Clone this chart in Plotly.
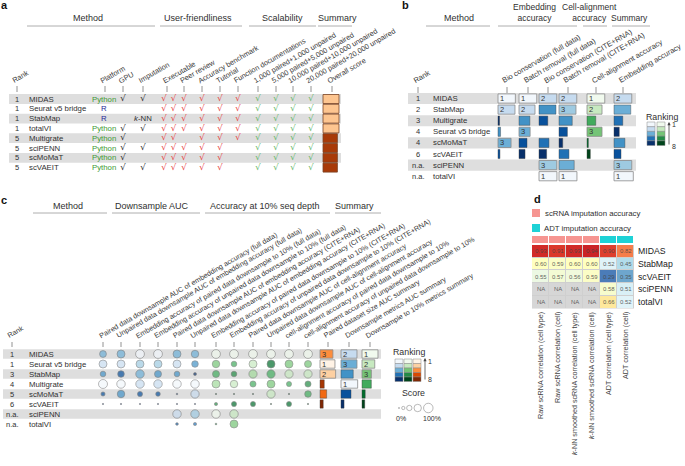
import plotly.graph_objects as go

FONT = "Liberation Sans, Arial, sans-serif"
INK = "#303030"
ROWBG = "#dedede"
TICK = "#777777"

BLUES = ["#f2f7fc", "#c6dbef", "#9ecae1", "#6baed6", "#4292c6", "#2171b5", "#08519c", "#08306b"]
GREENS = ["#f1faee", "#c7e9c0", "#a1d99b", "#74c476", "#41ab5d", "#238b45", "#006d2c", "#00441b"]
ORANGES = ["#fff3e6", "#fdd0a2", "#fdae6b", "#fd8d3c", "#f16913", "#d94801", "#a63603", "#7f2704"]

# ======================= DATA =======================
# ---- panel a
a_rank = ["1", "1", "1", "1", "5", "5", "5", "5"]
a_methods = ["MIDAS", "Seurat v5 bridge", "StabMap", "totalVI", "Multigrate", "sciPENN", "scMoMaT", "scVAEIT"]
a_platform = ["Python", "R", "R", "Python", "Python", "Python", "Python", "Python"]
a_gpu = [1, 0, 0, 1, 1, 1, 1, 1]
a_imputation = ["√", "", "<i>k</i>-NN", "√", "", "√", "", "√"]
# Executable (two checks), Peer review, Accuracy benchmark, Tutorial, Function documentations
a_user = [
    [1, 1, 1, 1, 1, 1],
    [1, 1, 1, 1, 1, 1],
    [1, 1, 1, 1, 1, 1],
    [1, 1, 1, 1, 1, 1],
    [1, 1, 0, 1, 1, 1],
    [1, 1, 1, 1, 1, 0],
    [1, 1, 1, 1, 1, 0],
    [1, 1, 1, 1, 1, 0],
]
a_scal = [
    [1, 1, 1, 1], [1, 1, 1, 1], [1, 1, 1, 1], [1, 1, 1, 1],
    [1, 1, 1, 1], [1, 1, 1, 1], [1, 1, 1, 1], [1, 1, 1, 1],
]
a_overall = [1.0, 1.0, 1.0, 1.0, 0.9, 0.9, 0.9, 0.9]
a_overall_rank = [1, 1, 1, 1, 5, 5, 5, 5]
a_col_labels = ["Rank", "Platform", "GPU", "Imputation", "Executable", "Peer review",
                "Accuracy benchmark", "Tutorial", "Function documentations",
                "1,000 paired+1,000 unpaired", "5,000 paired+5,000 unpaired",
                "10,000 paired+10,000 unpaired", "20,000 paired+20,000 unpaired", "Overall score"]
a_headers = ["Method", "User-friendliness", "Scalability", "Summary"]

# ---- panel b
b_rank = ["1", "2", "3", "4", "4", "6", "n.a.", "n.a."]
b_methods = ["MIDAS", "StabMap", "Multigrate", "Seurat v5 bridge", "scMoMaT", "scVAEIT", "sciPENN", "totalVI"]
b_col_labels = ["Rank", "Bio conservation (full data)", "Batch removal (full data)",
                "Bio conservation (CITE+RNA)", "Batch removal (CITE+RNA)",
                "Cell-alignment accuracy", "Embedding accuracy"]
b_scores = [  # per column, rows in b_methods order
    [0.89, 0.87, 0.08, 0.13, 0.67, 0.10, None, None],
    [0.91, 0.82, 0.56, 0.57, 0.41, 0.31, None, None],
    [0.91, 0.87, 0.45, None, 0.51, 0.39, 0.91, 0.92],
    [0.91, 0.87, 0.68, 0.43, 0.19, 0.51, 0.78, 0.92],
    [0.91, 0.77, 0.45, 0.77, 0.07, 0.17, None, None],
    [0.91, 0.86, 0.45, 0.27, 0.56, 0.36, 0.91, 0.99],
]
b_ranks = [
    [1, 2, 6, 4, 3, 5, None, None],
    [1, 2, 4, 3, 5, 6, None, None],
    [2, 4, 6, None, 5, 7, 3, 1],
    [2, 3, 5, 7, 8, 6, 4, 1],
    [1, 2, 4, 3, 5, 6, None, None],
    [2, 4, 6, 8, 5, 7, 3, 1],
]
b_col_family = ["blue", "blue", "blue", "blue", "green", "blue"]
b_headers = ["Method", "Embedding<br>accuracy", "Cell-alignment<br>accuracy", "Summary"]

# ---- panel c
c_rank = ["1", "1", "3", "4", "5", "6", "n.a.", "n.a."]
c_methods = ["MIDAS", "Seurat v5 bridge", "StabMap", "Multigrate", "scMoMaT", "scVAEIT", "sciPENN", "totalVI"]
c_col_labels = [
    "Paired data downsample AUC of embedding accuracy (full data)",
    "Unpaired data downsample AUC of embedding accuracy (full data)",
    "Embedding accuracy of paired data downsample to 10% (full data)",
    "Embedding accuracy of unpaired data downsample to 10% (full data)",
    "Paired data downsample AUC of embedding accuracy (CITE+RNA)",
    "Unpaired data downsample AUC of embedding accuracy (CITE+RNA)",
    "Embedding accuracy of paired data downsample to 10% (CITE+RNA)",
    "Embedding accuracy of unpaired data downsample to 10% (CITE+RNA)",
    "Paired data downsample AUC of cell-alignment accuracy",
    "Unpaired data downsample AUC of cell-alignment accuracy",
    "cell-alignment accuracy of paired data downsample to 10%",
    "cell-alignment accuracy of unpaired data downsample to 10%",
    "Paired dataset size AUC summary",
    "Downsample metrics AUC summary",
    "Downsample to 10% metrics summary",
]
c_scores = [  # rows x 12 metric columns
    [0.68, 0.82, 0.92, 0.92, 0.82, 0.76, 0.92, 0.92, 0.92, 0.92, 0.92, 0.92],
    [0.82, 0.82, 0.82, 0.82, 0.82, 0.65, 0.76, 0.53, 0.82, 0.82, 0.82, 0.70],
    [0.53, 0.65, 0.88, 0.70, 0.53, 0.22, 0.70, 0.53, 0.85, 0.85, 0.85, 0.85],
    [0.94, 0.88, 0.88, 0.88, 0.88, 0.88, 0.82, 0.76, 0.59, 0.82, 0.47, 0.59],
    [0.35, 0.76, 0.47, 0.41, 0.05, 0.86, 0.02, 0.02, 0.02, 0.86, 0.02, 0.65],
    [0.02, 0.02, 0.02, 0.02, 0.02, 0.02, 0.24, 0.47, 0.47, 0.02, 0.47, 0.02],
    [None, None, None, None, 0.88, 0.88, 0.88, 0.88, None, None, None, None],
    [None, None, None, None, 0.18, 0.24, 0.06, 0.82, None, None, None, None],
]
c_levels = [  # ranking shade 1..8
    [4, 4, 1, 1, 4, 4, 1, 1, 1, 1, 1, 1],
    [2, 2, 3, 3, 2, 5, 4, 5, 2, 7, 4, 4],
    [5, 7, 4, 5, 5, 8, 5, 6, 3, 5, 2, 2],
    [1, 1, 2, 2, 1, 1, 3, 2, 5, 4, 5, 6],
    [7, 5, 7, 7, 8, 2, 8, 8, 8, 2, 8, 5],
    [8, 8, 8, 8, 8, 8, 6, 7, 7, 8, 7, 8],
    [None, None, None, None, 2, 3, 1, 2, None, None, None, None],
    [None, None, None, None, 7, 6, 7, 4, None, None, None, None],
]
c_col_family = ["blue"] * 6 + ["green"] * 6
c_sum_scores = [  # per summary column
    [0.76, 0.88, 0.92, 0.25, 0.39, 0.19, None, None],
    [0.94, 0.94, 0.72, 0.98, 0.59, 0.18, None, None],
    [0.94, 0.75, 0.55, 0.55, 0.19, 0.16, None, None],
]
c_sum_ranks = [
    [3, 1, 2, 5, 4, 6, None, None],
    [2, 3, 4, 1, 5, 6, None, None],
    [1, 2, 3, 4, 5, 6, None, None],
]
c_sum_family = ["orange", "blue", "green"]
c_headers = ["Method", "Downsample AUC", "Accuracy at 10% seq depth", "Summary"]

# ---- panel d
d_methods = ["MIDAS", "StabMap", "scVAEIT", "sciPENN", "totalVI"]
d_metrics = ["Raw scRNA correlation (cell type)", "Raw scRNA correlation (cell)",
             "<i>k</i>-NN smoothed scRNA correlation (cell type)",
             "<i>k</i>-NN smoothed scRNA correlation (cell)",
             "ADT correlation (cell type)", "ADT correlation (cell)"]
d_metric_group = ["scRNA", "scRNA", "scRNA", "scRNA", "ADT", "ADT"]
d_values = [
    [0.93, 0.91, 0.93, 0.94, 0.90, 0.82],
    [0.60, 0.59, 0.60, 0.60, 0.52, 0.45],
    [0.55, 0.57, 0.56, 0.59, 0.29, 0.35],
    [None, None, None, None, 0.58, 0.51],
    [None, None, None, None, 0.66, 0.52],
]
d_groups = ["scRNA imputation accuracy", "ADT imputation accuracy"]

# ======================= HELPERS =======================
PAL = {"blue": BLUES, "green": GREENS, "orange": ORANGES}
fig = go.Figure()
ann = []
shp = []


def text(x, y, s, size=7.5, color=INK, xa="left", ya="middle", angle=0, bold=False, align="center"):
    if bold:
        s = "<b>" + s + "</b>"
    ann.append(dict(x=x, y=y, xref="x", yref="y", text=s, showarrow=False, align=align,
                    font=dict(family=FONT, size=size, color=color), xanchor=xa, yanchor=ya,
                    textangle=angle, borderpad=0, borderwidth=0))


def rect(x0, y0, x1, y1, fill, line=None, lw=0, layer="below"):
    shp.append(dict(type="rect", xref="x", yref="y", x0=x0, y0=y0, x1=x1, y1=y1, fillcolor=fill,
                    line=dict(color=line or fill, width=lw), layer=layer))


def hline(x0, y0, x1, y1, color="#999999", w=0.8):
    shp.append(dict(type="line", xref="x", yref="y", x0=x0, y0=y0, x1=x1, y1=y1,
                    line=dict(color=color, width=w), layer="above"))


def rot_labels(ticks, labels, ybottom, t0, t1, size):
    for x, lab in zip(ticks, labels):
        hline(x, t0, x, t1, TICK, 0.8)
        text(x - 6, ybottom, lab, size=size, xa="left", ya="bottom", angle=-30, color="#3a3a3a")


def shade(rank, n):
    return int(round((rank - 1) * 7 / max(n - 1, 1)))


def checks(xs, ys, color, size=8.5):
    fig.add_trace(go.Scatter(x=xs, y=ys, mode="text", text=["√"] * len(xs),
                             textposition="middle center",
                             textfont=dict(family="DejaVu Sans, " + FONT, size=size, color=color),
                             hoverinfo="skip"))


def arrow_legend(x, ytop, ybot):
    ann.append(dict(x=x, y=ytop, ax=x, ay=ybot, xref="x", yref="y", axref="x", ayref="y",
                    showarrow=True, arrowhead=2, arrowsize=0.8, arrowwidth=0.8, arrowcolor="#444", text=""))


# ======================= PANEL A =======================
text(1, 5, "a", size=11, bold=True, color="#111")
A_Y0, A_DY = 99, 9.8
a_y = [A_Y0 + i * A_DY for i in range(len(a_methods))]
A_TICKS = [17, 105, 123, 143, 167, 184, 202, 220, 238, 258, 276, 293, 311, 332]
A_UF_X = [164, 173.5, 184, 202, 220, 238]
A_SC_X = [258, 276, 293, 311]
A_SUM_X0, A_SUM_W = 323, 16

hdr_a = list(zip([(27, 155), (160, 242), (249, 316), (318, 352)], [88, 198, 282, 318], a_headers))
for (x0, x1), cx, h in hdr_a:
    if h == "Summary":
        text(cx, 18, h, size=9, xa="left")
    else:
        text(cx, 18, h, size=9, xa="center")
    hline(x0, 26, x1, 26, "#9a9a9a", 0.8)

rot_labels(A_TICKS, a_col_labels, 85, 86, 92, 7.3)

for i, y in enumerate(a_y):
    if i % 2 == 0:
        rect(9, y - A_DY / 2, 341, y + A_DY / 2, ROWBG)
    text(17, y, a_rank[i], xa="center")
    text(29, y, a_methods[i], size=7.8)
    text(104, y, a_platform[i], size=7.8, xa="center",
         color="#3e9a34" if a_platform[i] == "Python" else "#26289a")
    if a_imputation[i] and a_imputation[i] != "√":
        text(143, y, a_imputation[i], size=7.8, xa="center")

gx = [123 for i in range(8) if a_gpu[i]]
gy = [a_y[i] for i in range(8) if a_gpu[i]]
ix = [143 for i in range(8) if a_imputation[i] == "√"]
iy = [a_y[i] for i in range(8) if a_imputation[i] == "√"]
checks(gx + ix, gy + iy, "#222222")
rx, ry = [], []
for i in range(8):
    for j, v in enumerate(a_user[i]):
        if v:
            rx.append(A_UF_X[j]); ry.append(a_y[i])
checks(rx, ry, "#e8413c")
sx, sy = [], []
for i in range(8):
    for j, v in enumerate(a_scal[i]):
        if v:
            sx.append(A_SC_X[j]); sy.append(a_y[i])
checks(sx, sy, "#5fb565")
A_SHADE = {1: "#fdc590", 5: "#a83a08"}
fig.add_trace(go.Bar(orientation="h", y=a_y, x=[s * A_SUM_W for s in a_overall], base=A_SUM_X0,
                     width=9.0, marker=dict(color=[A_SHADE[r] for r in a_overall_rank],
                                            line=dict(color="#7a4426", width=0.8)),
                     hoverinfo="skip"))

# ======================= PANEL B =======================
text(402, 5, "b", size=11, bold=True, color="#111")
B_Y0, B_DY = 98.5, 11.1
b_y = [B_Y0 + i * B_DY for i in range(len(b_methods))]
B_X0 = [498, 519, 539, 559, 587, 614]
B_MAXW = 19.5
B_TICKS = [418] + [x + 9 for x in B_X0]

text(459, 18, b_headers[0], size=9, xa="center")
hline(426, 26, 490, 26, "#9a9a9a", 0.8)
text(534, 23, b_headers[1], size=8.5, xa="center", ya="bottom")
hline(498, 26, 577, 26, "#9a9a9a", 0.8)
text(589, 23, b_headers[2], size=8.5, xa="center", ya="bottom")
hline(583, 26, 607, 26, "#9a9a9a", 0.8)
text(611, 18, b_headers[3], size=8.5, xa="left")
hline(612, 26, 650, 26, "#9a9a9a", 0.8)

rot_labels(B_TICKS, b_col_labels, 85, 87, 93, 7.5)

for i, y in enumerate(b_y):
    if i % 2 == 0:
        rect(408, y - B_DY / 2, 636, y + B_DY / 2, ROWBG)
    text(418, y, b_rank[i], xa="center")
    text(433, y, b_methods[i], size=7.8)

for j, x0 in enumerate(B_X0):
    pal = PAL[b_col_family[j]]
    n = sum(1 for r in b_ranks[j] if r is not None)
    ys, ls, cs, lc = [], [], [], []
    for i, s in enumerate(b_scores[j]):
        if s is None:
            continue
        r = b_ranks[j][i]
        ys.append(b_y[i]); ls.append(s * B_MAXW)
        cs.append(pal[shade(r, n)])
        lc.append("#8a8a8a" if r <= 3 else "rgba(60,60,60,0.5)")
        if r <= 3:
            text(x0 + 2.2, b_y[i], str(r), size=7.5, color="#333")
    fig.add_trace(go.Bar(orientation="h", y=ys, x=ls, base=x0, width=9.2,
                         marker=dict(color=cs, line=dict(color=lc, width=0.8)), hoverinfo="skip"))

text(662, 117, "Ranking", size=8.8, xa="center")
LEG_IDX = [0, 1, 3, 5, 7]
for k, (fam, lx) in enumerate([("blue", 647), ("green", 657)]):
    for m, idx in enumerate(LEG_IDX):
        rect(lx, 122 + m * 4.7, lx + 8, 122 + (m + 1) * 4.7, PAL[fam][idx], "#8a8a8a", 0.5, layer="above")
arrow_legend(669, 122, 146)
text(672, 124, "1", size=7)
text(672, 146, "8", size=7)

# ======================= PANEL C =======================
text(1, 200, "c", size=11, bold=True, color="#111")
C_Y0, C_DY = 354, 10
c_y = [C_Y0 + i * C_DY for i in range(len(c_methods))]
C_X = [103, 121, 140, 158, 177, 195, 216, 234, 253, 271, 289, 308]
C_SUM_X0 = [320, 341, 362]
C_SUM_W = 17
C_TICKS = [12] + C_X + [x + 8 for x in C_SUM_X0]

for (x0, x1), cx, h in zip([(33, 107), (112, 200), (205, 330), (335, 381)], [68, 152, 265, 335], c_headers):
    text(cx, 206, h, size=9, xa="left" if h == "Summary" else "center")
    hline(x0, 213, x1, 213, "#9a9a9a", 0.8)

rot_labels(C_TICKS, ["Rank"] + c_col_labels, 340, 342, 347, 7.2)

for i, y in enumerate(c_y):
    if i % 2 == 0:
        rect(3, y - 4.8, 381, y + 4.8, ROWBG)
    text(12, y, c_rank[i], xa="center")
    text(29, y, c_methods[i], size=7.8)

cx_, cy_, cs_, cc_ = [], [], [], []
for i in range(len(c_methods)):
    for j in range(12):
        s = c_scores[i][j]
        if s is None:
            continue
        cx_.append(C_X[j]); cy_.append(c_y[i])
        cs_.append(1.2 + 8.3 * s)
        cc_.append(PAL[c_col_family[j]][c_levels[i][j] - 1])
fig.add_trace(go.Scatter(x=cx_, y=cy_, mode="markers",
                         marker=dict(size=cs_, color=cc_, line=dict(color="#5a5a5a", width=0.6)),
                         hoverinfo="skip"))

for j, x0 in enumerate(C_SUM_X0):
    pal = PAL[c_sum_family[j]]
    n = sum(1 for r in c_sum_ranks[j] if r is not None)
    ys, ls, cs, lc = [], [], [], []
    for i, s in enumerate(c_sum_scores[j]):
        if s is None:
            continue
        r = c_sum_ranks[j][i]
        ys.append(c_y[i]); ls.append(s * C_SUM_W)
        cs.append(pal[shade(r, n)])
        lc.append("#8a8a8a" if r <= 3 else "rgba(60,60,60,0.5)")
        if r <= 3:
            text(x0 + 2.2, c_y[i], str(r), size=7.5, color="#333")
    fig.add_trace(go.Bar(orientation="h", y=ys, x=ls, base=x0, width=8.4,
                         marker=dict(color=cs, line=dict(color=lc, width=0.8)), hoverinfo="skip"))

text(409, 352, "Ranking", size=8.8, xa="center")
for k, (fam, lx) in enumerate([("blue", 395), ("green", 404), ("orange", 413)]):
    for m, idx in enumerate(LEG_IDX):
        rect(lx, 359 + m * 4.5, lx + 8, 359 + (m + 1) * 4.5, PAL[fam][idx], "#8a8a8a", 0.5, layer="above")
arrow_legend(425, 358, 381)
text(428, 361, "1", size=7)
text(428, 379, "8", size=7)
text(413, 393, "Score", size=8.8, xa="center")
score_leg = [0.0, 0.25, 0.5, 0.75, 1.0]
fig.add_trace(go.Scatter(x=[399, 403.3, 409.3, 417.7, 428.3], y=[408] * 5, mode="markers",
                         marker=dict(size=[1.2 + 8.3 * s for s in score_leg], color="white",
                                     line=dict(color="#5a5a5a", width=0.6)), hoverinfo="skip"))
text(401, 418, "0%", size=7, xa="center")
text(432, 418, "100%", size=7, xa="center")

# ======================= PANEL D =======================
text(534, 199, "d", size=11, bold=True, color="#111")
D_X0, D_CW, D_Y0, D_RH = 532, 17, 245, 12.7
SALMON, CYAN = "#f69591", "#1ed2d6"
rect(D_X0, 209, D_X0 + 8, 217, SALMON)
text(545, 213, d_groups[0], size=7.8)
rect(D_X0, 224, D_X0 + 8, 232, CYAN)
text(544, 228, d_groups[1], size=7.8)

fig.add_trace(go.Heatmap(z=[[0 if g == "scRNA" else 1 for g in d_metric_group]],
                         x0=D_X0 + D_CW / 2, dx=D_CW, y0=239.5, dy=7,
                         colorscale=[[0, SALMON], [0.5, SALMON], [0.5, CYAN], [1, CYAN]],
                         zmin=0, zmax=1, xgap=1, showscale=False, hoverinfo="skip"))
rect(D_X0, D_Y0, D_X0 + D_CW * 6, D_Y0 + D_RH * 5, "#cfcfcf")
RDYLBU_R = ["#313695", "#4575b4", "#74add1", "#abd9e9", "#e0f3f8", "#ffffbf",
            "#fee090", "#fdae61", "#f46d43", "#d73027", "#a50026"]
cscale = [[k / 10, c] for k, c in enumerate(RDYLBU_R)]
fig.add_trace(go.Heatmap(z=d_values, x0=D_X0 + D_CW / 2, dx=D_CW, y0=D_Y0 + D_RH / 2, dy=D_RH,
                         colorscale=cscale, zmin=0.2, zmax=1.0, xgap=1, ygap=1,
                         showscale=False, hoverinfo="skip"))
fig.add_trace(go.Heatmap(z=[[1 if v is None else None for v in row] for row in d_values],
                         x0=D_X0 + D_CW / 2, dx=D_CW, y0=D_Y0 + D_RH / 2, dy=D_RH,
                         colorscale=[[0, "#d6d6d6"], [1, "#d6d6d6"]], xgap=1, ygap=1,
                         showscale=False, hoverinfo="skip"))
for i, row in enumerate(d_values):
    yc = D_Y0 + D_RH * (i + 0.5)
    for j, v in enumerate(row):
        xc = D_X0 + D_CW * (j + 0.5)
        text(xc, yc, "NA" if v is None else f"{v:.2f}", size=6,
             color="rgba(70,70,70,0.85)", xa="center")
    text(638, yc, d_methods[i], size=8.7, color="#222")
for j, lab in enumerate(d_metrics):
    text(D_X0 + D_CW * (j + 0.5), 312, lab, size=7.2, xa="center", ya="top", angle=-90, color="#444")

# ======================= LAYOUT =======================
fig.update_layout(
    width=685, height=466, margin=dict(l=0, r=0, t=0, b=0),
    paper_bgcolor="white", plot_bgcolor="white", showlegend=False, barmode="overlay",
    hovermode=False,
    xaxis=dict(range=[0, 685], visible=False, fixedrange=True),
    yaxis=dict(range=[466, 0], visible=False, fixedrange=True),
    annotations=ann, shapes=shp,
)
fig.write_html("out.html", config={"displayModeBar": False},
               post_script="document.body.style.margin='0px';document.body.style.overflow='hidden';")
